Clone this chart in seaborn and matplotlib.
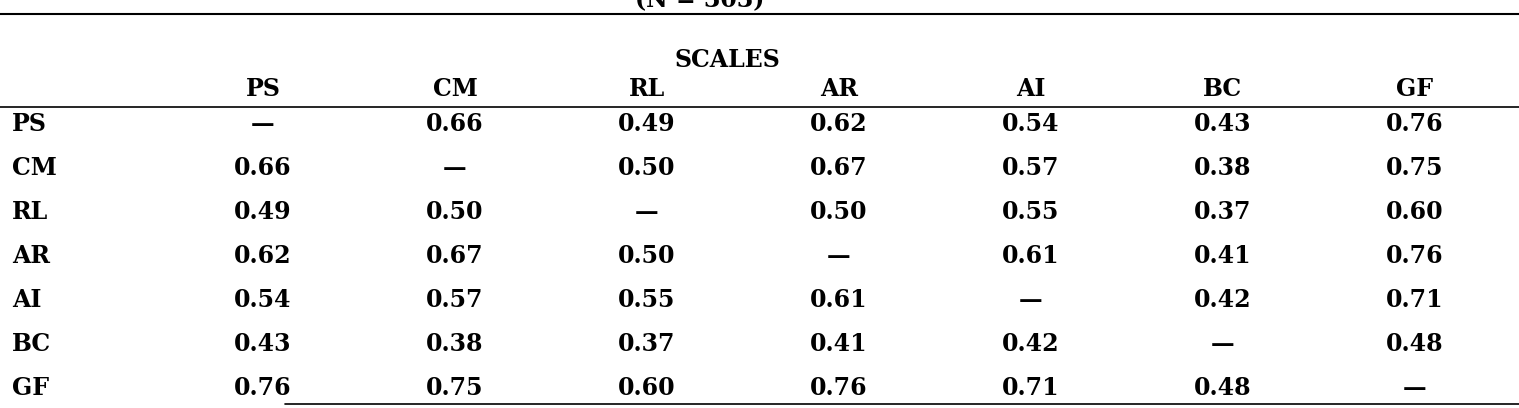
import matplotlib
matplotlib.use("Agg")
import matplotlib.pyplot as plt
import seaborn as sns
import numpy as np

scales = ["PS", "CM", "RL", "AR", "AI", "BC", "GF"]
corr = [
    [None, 0.66, 0.49, 0.62, 0.54, 0.43, 0.76],
    [0.66, None, 0.50, 0.67, 0.57, 0.38, 0.75],
    [0.49, 0.50, None, 0.50, 0.55, 0.37, 0.60],
    [0.62, 0.67, 0.50, None, 0.61, 0.41, 0.76],
    [0.54, 0.57, 0.55, 0.61, None, 0.42, 0.71],
    [0.43, 0.38, 0.37, 0.41, 0.42, None, 0.48],
    [0.76, 0.75, 0.60, 0.76, 0.71, 0.48, None],
]
header = "SCALES"
title = "(N = 303)"

sns.set_theme(style="white")
plt.rcParams["font.family"] = ["DejaVu Serif"]
plt.rcParams["text.color"] = "black"
W, H = 1519, 408
fig = plt.figure(figsize=(W / 100, H / 100), dpi=100)

vals = np.array([[np.nan if v is None else v for v in r] for r in corr])
annot = np.array([["\u2014" if v is None else f"{v:.2f}" for v in r] for r in corr])
ax = fig.add_axes([167 / W, (H - 410) / H, 1344 / W, 308 / H])
sns.heatmap(np.nan_to_num(vals), ax=ax, cmap=matplotlib.colors.ListedColormap(["white"]),
            cbar=False, annot=annot, fmt="",
            annot_kws={"fontsize": 17, "color": "black", "fontweight": "bold"},
            xticklabels=False, yticklabels=False)
ax.set_facecolor("white")

ov = fig.add_axes([0, 0, 1, 1], facecolor="none")
ov.set_xlim(0, W)
ov.set_ylim(H, 0)
ov.axis("off")
kw = dict(fontsize=17, fontweight="bold", color="black")
ov.text(700, 0, title, ha="center", va="center", **kw)
ov.plot([0, W], [14, 14], color="black", lw=1.5)
ov.text(727, 60, header, ha="center", va="center", **kw)
for i, s in enumerate(scales):
    ov.text(263 + 192 * i, 89, s, ha="center", va="center", **kw)
    ov.text(12, 124 + 44 * i, s, ha="left", va="center", **kw)
ov.plot([0, W], [107, 107], color="black", lw=1.2)
ov.plot([285, W], [404, 404], color="black", lw=1.2)

fig.savefig("out.png", dpi=100, facecolor="white")
